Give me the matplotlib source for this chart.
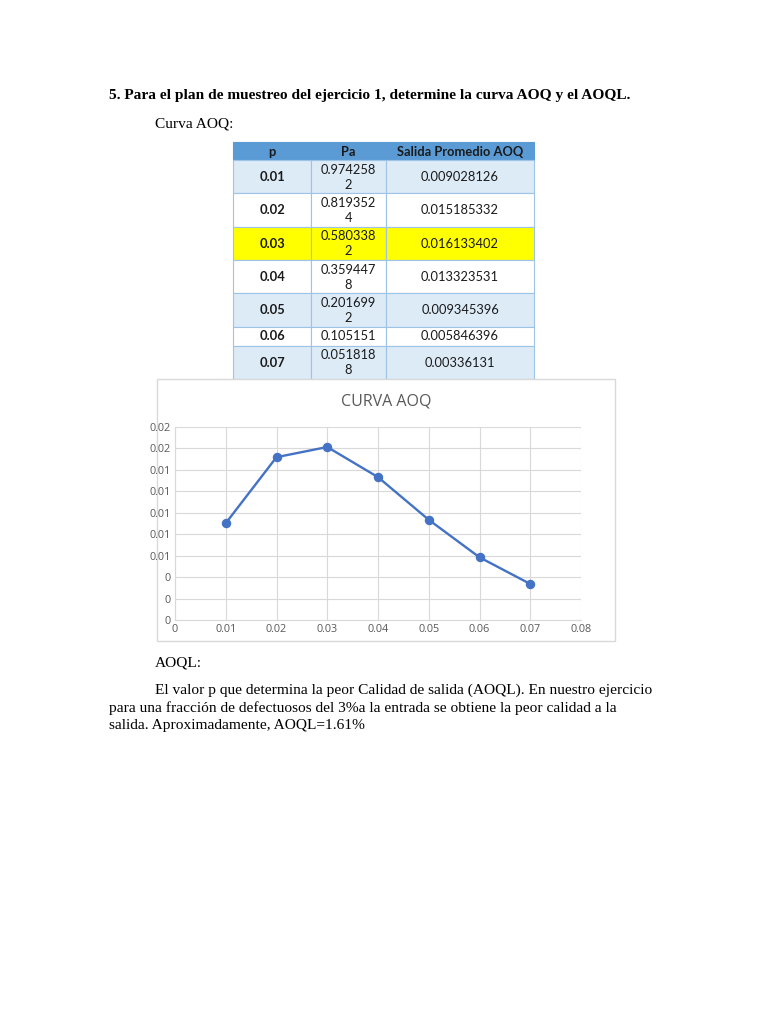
import matplotlib
matplotlib.use("Agg")
import matplotlib.pyplot as plt
from matplotlib.patches import Rectangle
from matplotlib.ticker import MultipleLocator, FuncFormatter

# ---------------- data ----------------
p_values = [0.01, 0.02, 0.03, 0.04, 0.05, 0.06, 0.07]
pa_values = [0.9742582, 0.8193524, 0.5803382, 0.3594478, 0.2016992, 0.105151, 0.0518188]
aoq_values = [0.009028126, 0.015185332, 0.016133402, 0.013323531, 0.009345396, 0.005846396, 0.00336131]
table_headers = ["p", "Pa", "Salida Promedio AOQ"]
highlight_p = 0.03

title_text = "5. Para el plan de muestreo del ejercicio 1, determine la curva AOQ y el AOQL."
subtitle_text = "Curva AOQ:"
chart_title = "CURVA AOQ"
aoql_heading = "AOQL:"
paragraph_lines = [
    "El valor p que determina la peor Calidad de salida (AOQL). En nuestro ejercicio",
    "para una fracción de defectuosos del 3%a la entrada se obtiene la peor calidad a la",
    "salida. Aproximadamente, AOQL=1.61%",
]

W, H = 768, 1024
fig = plt.figure(figsize=(W / 100, H / 100), dpi=100)
fig.patch.set_facecolor("white")

bg = fig.add_axes([0, 0, 1, 1])
bg.set_xlim(0, W)
bg.set_ylim(H, 0)
bg.axis("off")

serif = "Liberation Serif"
tfont = "Lato"
doc_fs = 11.1
tab_fs = 9.3

# ---------- document text ----------
bg.text(109, 95, title_text, fontfamily=serif, fontweight="bold", fontsize=doc_fs,
        va="center", ha="left", color="black")
bg.text(155, 124, subtitle_text, fontfamily=serif, fontsize=doc_fs, va="center", ha="left")

# ---------- table ----------
col_edges = [233, 311, 386, 534]
header_top, header_h = 142, 18
wrap_h, single_h = 33.3, 19
border_col = "#9DC3E6"

def fmt_pa(v):
    s = repr(v)
    if len(s) > 8:
        return s[:8] + "\n" + s[8:]
    return s

y = header_top
for i, h in enumerate(table_headers):
    x0, x1 = col_edges[i], col_edges[i + 1]
    bg.add_patch(Rectangle((x0, y), x1 - x0, header_h, facecolor="#5B9BD5",
                           edgecolor="#5B9BD5", lw=0.8))
    bg.text((x0 + x1) / 2, y + header_h / 2 + 0.5, h, fontfamily=tfont, fontweight="bold",
            fontsize=tab_fs, ha="center", va="center", color="#1a1a1a")
y += header_h

for r, (p, pa, aoq) in enumerate(zip(p_values, pa_values, aoq_values)):
    pa_s = fmt_pa(pa)
    rh = wrap_h if "\n" in pa_s else single_h
    if abs(p - highlight_p) < 1e-9:
        fc = "#FFFF00"
    elif r % 2 == 0:
        fc = "#DDEBF7"
    else:
        fc = "white"
    cells = [f"{p:.2f}", pa_s, repr(aoq)]
    for c in range(3):
        x0, x1 = col_edges[c], col_edges[c + 1]
        bg.add_patch(Rectangle((x0, y), x1 - x0, rh, facecolor=fc,
                               edgecolor=border_col, lw=0.8))
        bg.text((x0 + x1) / 2, y + rh / 2 + 0.5, cells[c], fontfamily=tfont,
                fontweight="bold" if c == 0 else "normal", fontsize=tab_fs,
                ha="center", va="center", color="#1a1a1a", linespacing=1.3)
    y += rh

# ---------- chart frame ----------
bg.add_patch(Rectangle((157, 379), 615 - 157, 641 - 379, facecolor="white",
                       edgecolor="#D9D9D9", lw=1.0, zorder=5))
bg.text(386, 402, chart_title, fontfamily="Open Sans", fontsize=11.5, color="#595959",
        ha="center", va="center", zorder=6)

# ---------- chart ----------
pl, pr, pt, pb = 175, 581, 427, 620
ax = fig.add_axes([pl / W, (H - pb) / H, (pr - pl) / W, (pb - pt) / H])
ax.set_zorder(10)
ax.patch.set_alpha(0)
ax.plot(p_values, aoq_values, color="#4472C4", lw=1.7, marker="o", markersize=5.8,
        markerfacecolor="#4472C4", markeredgecolor="#4472C4", zorder=3)
ax.set_xlim(0, 0.08)
ax.set_ylim(0, 0.018)
ax.xaxis.set_major_locator(MultipleLocator(0.01))
ax.yaxis.set_major_locator(MultipleLocator(0.002))

def fmt(v, pos):
    r = round(v, 2)
    if abs(r) < 1e-12:
        return "0"
    return f"{r:g}"

ax.xaxis.set_major_formatter(FuncFormatter(fmt))
ax.yaxis.set_major_formatter(FuncFormatter(fmt))
ax.grid(True, color="#D9D9D9", lw=0.8)
ax.set_axisbelow(True)
for s in ["top", "right"]:
    ax.spines[s].set_visible(False)
for s in ["left", "bottom"]:
    ax.spines[s].set_color("#D9D9D9")
    ax.spines[s].set_linewidth(0.8)
ax.tick_params(length=0, labelsize=7.8, labelcolor="#595959", pad=3)
for lab in ax.get_xticklabels() + ax.get_yticklabels():
    lab.set_fontfamily("Open Sans")

# ---------- AOQL text ----------
bg.text(155, 663, aoql_heading, fontfamily=serif, fontsize=doc_fs, va="center", ha="left")
line_y = [690, 708, 726]
for i, (ln, yy) in enumerate(zip(paragraph_lines, line_y)):
    bg.text(155 if i == 0 else 109, yy, ln, fontfamily=serif, fontsize=doc_fs,
            va="center", ha="left")

fig.savefig("out.png", dpi=100, facecolor="white")
